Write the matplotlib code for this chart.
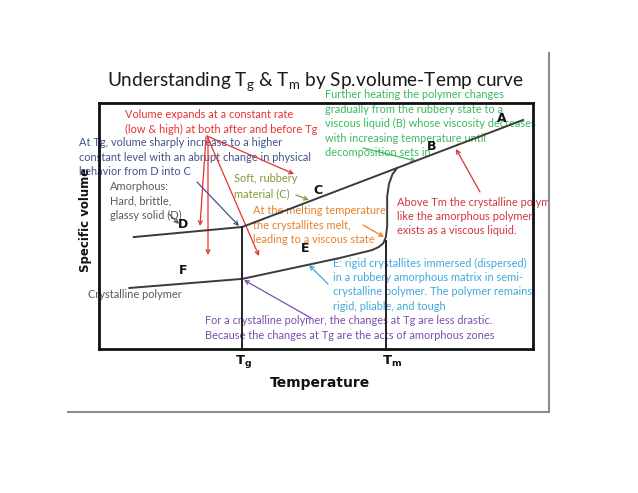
import numpy as np
import matplotlib
matplotlib.use("Agg")
import matplotlib.pyplot as plt
from matplotlib.transforms import Bbox, TransformedBbox

plt.rcParams['font.family'] = ['Lato', 'DejaVu Sans']

## data (temperature / specific volume, arbitrary units of the sketch)
T_amorph = [8, 33, 97.7]
V_amorph = [45.5, 49.6, 93.1]
T_cryst = [7, 33, 55.5, 62.9, 64.5, 65.5, 66.1, 66.4, 66.4, 66.8, 67.6, 68.7]
V_cryst = [24.8, 28.5, 37.0, 40.2, 41.5, 43.0, 45.5, 50.0, 62.0, 67.0, 71.0, 73.6]
Tg = 33
Tm = 66.1
V_tg_top = 49.6
V_tm_top = 44.0

title_txt = 'Understanding T$_\\mathregular{g}$ & T$_\\mathregular{m}$ by Sp.volume-Temp curve'

notes = [
    # (lines, x, y first line, colour)
    (["Volume expands at a constant rate",
      "(low & high) at both after and before Tg"], 125, 115, '#e8322e'),
    (["At Tg, volume sharply increase to a higher",
      "constant level with an abrupt change in physical",
      "behavior from D into C"], 79, 143, '#40528f'),
    (["Amorphous:", "Hard, brittle,", "glassy solid (D)"], 110, 187, '#595959'),
    (["Soft, rubbery", "material (C)"], 234, 179, '#7f9a3c'),
    (["At the melting temperature", "the crystallites melt,",
      "leading to a viscous state"], 253, 211, '#e8802a'),
    (["Further heating the polymer changes",
      "gradually from the rubbery state to a",
      "viscous liquid (B) whose viscosity decreases",
      "with increasing temperature until",
      "decomposition sets in"], 325, 95, '#3cb860'),
    (["Above Tm the crystalline polymer",
      "like the amorphous polymer,",
      "exists as a viscous liquid."], 397, 202, '#d2343f'),
    (["E: rigid crystallites immersed (dispersed)",
      "in a rubbery amorphous matrix in semi-",
      "crystalline polymer. The polymer remains",
      "rigid, pliable, and tough"], 333, 263, '#3fa9dc'),
    (["For a crystalline polymer, the changes at Tg are less drastic.",
      "Because the changes at Tg are the acts of amorphous zones"], 205, 321, '#7b4fae'),
    (["Crystalline polymer"], 88, 295, '#595959'),
]

letters = {'A': (502, 118), 'B': (432, 147), 'C': (318, 190),
           'D': (183, 224), 'E': (305, 248), 'F': (183, 271)}

arrows = [
    # (tail, head, colour)
    ((207, 136), (294, 174), '#e8322e'),
    ((206, 137), (200, 226), '#e8322e'),
    ((208, 137), (208, 255), '#e8322e'),
    ((207, 136), (259, 256), '#e8322e'),
    ((197, 182), (239, 226), '#40528f'),
    ((169, 214), (179, 224), '#595959'),
    ((296, 195), (309, 200), '#7f9a3c'),
    ((363, 225), (384, 237), '#e8802a'),
    ((363, 148), (416, 161), '#3cb860'),
    ((480, 192), (456, 149), '#d2343f'),
    ((328, 284), (309, 265), '#3fa9dc'),
    ((311, 318), (244, 280), '#7b4fae'),
]

W, H = 638, 493
fig = plt.figure(figsize=(W / 100, H / 100), dpi=100)

## overlay in pixel coordinates
ov = fig.add_axes([0, 0, 1, 1])
ov.set_xlim(0, W)
ov.set_ylim(H, 0)
ov.axis('off')

ov.text(315, 82, title_txt, fontsize=13.7, ha='center', va='center', color='#1a1a1a')

clip = TransformedBbox(Bbox.from_extents(0, 0, 548, H), ov.transData)
for lines, x, y, col in notes:
    for i, line in enumerate(lines):
        t = ov.text(x, y + i * 14.4, line, fontsize=7.9, color=col, ha='left', va='center')
        t.set_clip_on(True)
        t.set_clip_box(clip)

for (x0, y0), (x1, y1), col in arrows:
    ov.annotate('', xy=(x1, y1), xytext=(x0, y0),
                arrowprops=dict(arrowstyle='->', color=col, lw=0.9,
                                shrinkA=0, shrinkB=0, mutation_scale=7))

for k, (x, y) in letters.items():
    ov.text(x, y, k, fontsize=9, fontweight='bold', family='DejaVu Sans',
            ha='center', va='center', color='#111111')

ov.text(85, 220, 'Specific volume', rotation=90, fontsize=8.5, fontweight='bold',
        family='DejaVu Sans', ha='center', va='center', color='#111111')
ov.text(320, 383, 'Temperature', fontsize=10, fontweight='bold', family='DejaVu Sans',
        ha='center', va='center', color='#111111')
ov.text(243, 361, r'$\mathbf{T_g}$', fontsize=9.5, ha='center', va='center', color='#111111')
ov.text(392, 361, r'$\mathbf{T_m}$', fontsize=9.5, ha='center', va='center', color='#111111')

# slide frame
ov.plot([549, 549], [53, 412], color='#8c8c8c', lw=1.5)
ov.plot([68, 549], [412, 412], color='#8c8c8c', lw=1.5)

## chart box
x0, x1, y0, y1 = 99, 533, 103, 349
ax = fig.add_axes([x0 / W, (H - y1) / H, (x1 - x0) / W, (y1 - y0) / H])
ax.set_facecolor('none')
ax.set_xlim(0, 100)
ax.set_ylim(0, 100)
ax.set_xticks([])
ax.set_yticks([])
for s in ax.spines.values():
    s.set_linewidth(2)
    s.set_color('#111111')

ax.plot(T_amorph, V_amorph, color='#3a3a3a', lw=1.4)
ax.plot(T_cryst, V_cryst, color='#3a3a3a', lw=1.4)
ax.plot([Tg, Tg], [0, V_tg_top], color='#222222', lw=1.4)
ax.plot([Tm, Tm], [0, V_tm_top], color='#222222', lw=1.4)

fig.savefig('out.png', dpi=100)
